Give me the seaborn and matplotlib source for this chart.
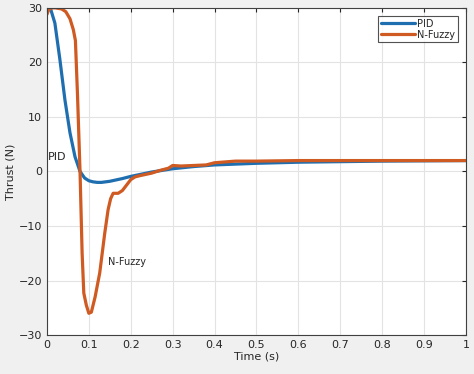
import numpy as np
import pandas as pd
import matplotlib
matplotlib.use('Agg')
import matplotlib.pyplot as plt
import seaborn as sns

# Values
pid_t = [0, 0.008, 0.019, 0.031, 0.043, 0.055, 0.067, 0.079, 0.09, 0.1, 0.11, 0.12, 0.13,
         0.15, 0.18, 0.2, 0.25, 0.3, 0.35, 0.4, 0.5, 0.6, 0.7, 0.8, 0.9, 1.0]
pid_y = [30, 30, 27.2, 20.5, 13.1, 7.1, 2.7, 0.0, -1.2, -1.7, -1.9, -2.0, -2.0,
         -1.8, -1.3, -0.9, -0.1, 0.5, 0.9, 1.2, 1.5, 1.7, 1.8, 1.9, 1.95, 2.0]

fz_t = [0, 0.004, 0.01, 0.02, 0.035, 0.045, 0.055, 0.063, 0.068, 0.073, 0.079, 0.084, 0.088,
        0.094, 0.1, 0.106, 0.115, 0.126, 0.138, 0.146, 0.152, 0.158, 0.17, 0.18, 0.19,
        0.2, 0.21, 0.22, 0.25, 0.27, 0.29, 0.3, 0.32, 0.35, 0.38, 0.4, 0.45, 0.5, 0.6,
        0.7, 0.8, 0.9, 1.0]
fz_y = [28.8, 29.6, 30, 30, 29.8, 29.3, 28, 26, 24, 14, 0, -15, -22.3,
        -24.5, -26, -25.8, -23, -18.6, -11.3, -7, -5, -4, -4, -3.5, -2.5,
        -1.5, -1.0, -0.8, -0.3, 0.2, 0.6, 1.1, 1.0, 1.1, 1.2, 1.6, 1.9, 1.9, 2.0,
        2.0, 2.0, 2.0, 2.0]

series = ['PID', 'N-Fuzzy']
colors = ['#1f6fb0', '#cf5a22']
x_ticks = [0, 0.1, 0.2, 0.3, 0.4, 0.5, 0.6, 0.7, 0.8, 0.9, 1]
x_tick_labels = ['0', '0.1', '0.2', '0.3', '0.4', '0.5', '0.6', '0.7', '0.8', '0.9', '1']
y_ticks = [-30, -20, -10, 0, 10, 20, 30]

df = pd.concat([
    pd.DataFrame({'t': pid_t, 'y': pid_y, 'ctrl': 'PID'}),
    pd.DataFrame({'t': fz_t, 'y': fz_y, 'ctrl': 'N-Fuzzy'}),
])

sns.set_style('white')
plt.rcParams['font.family'] = ['DejaVu Sans']

fig = plt.figure(figsize=(4.74, 3.74), dpi=100, facecolor='#f0f0f0')
ax = fig.add_axes([0.099, 0.104, 0.884, 0.875])
ax.set_facecolor('white')

sns.lineplot(data=df, x='t', y='y', hue='ctrl', hue_order=series,
             palette=colors, linewidth=2.3, sort=False, estimator=None, ax=ax)

ax.set_xlim(0, 1)
ax.set_ylim(-30, 30)
ax.set_xticks(x_ticks)
ax.set_xticklabels(x_tick_labels)
ax.set_yticks(y_ticks)
ax.grid(True, color='#e3e3e3', linewidth=0.8)
ax.tick_params(direction='in', length=3, labelsize=8, colors='#262626',
               top=True, right=True)
for s in ax.spines.values():
    s.set_color('#404040')
    s.set_linewidth(0.8)

ax.set_xlabel('Time (s)', fontsize=8, color='#262626', labelpad=1)
ax.set_ylabel('Thrust (N)', fontsize=8, color='#262626', labelpad=2)

ax.text(0.003, 2.6, 'PID', fontsize=8, color='#262626', va='center')
ax.text(0.146, -16.6, 'N-Fuzzy', fontsize=7, color='#262626', va='center')

leg = ax.legend(loc='upper right', fontsize=7, frameon=True, fancybox=False,
                handlelength=3.5, handletextpad=0.2, borderpad=0.3,
                labelspacing=0.1, borderaxespad=0.8)
leg.get_frame().set_edgecolor('#262626')
leg.get_frame().set_linewidth(0.8)

fig.savefig('out.png', dpi=100, facecolor=fig.get_facecolor())
